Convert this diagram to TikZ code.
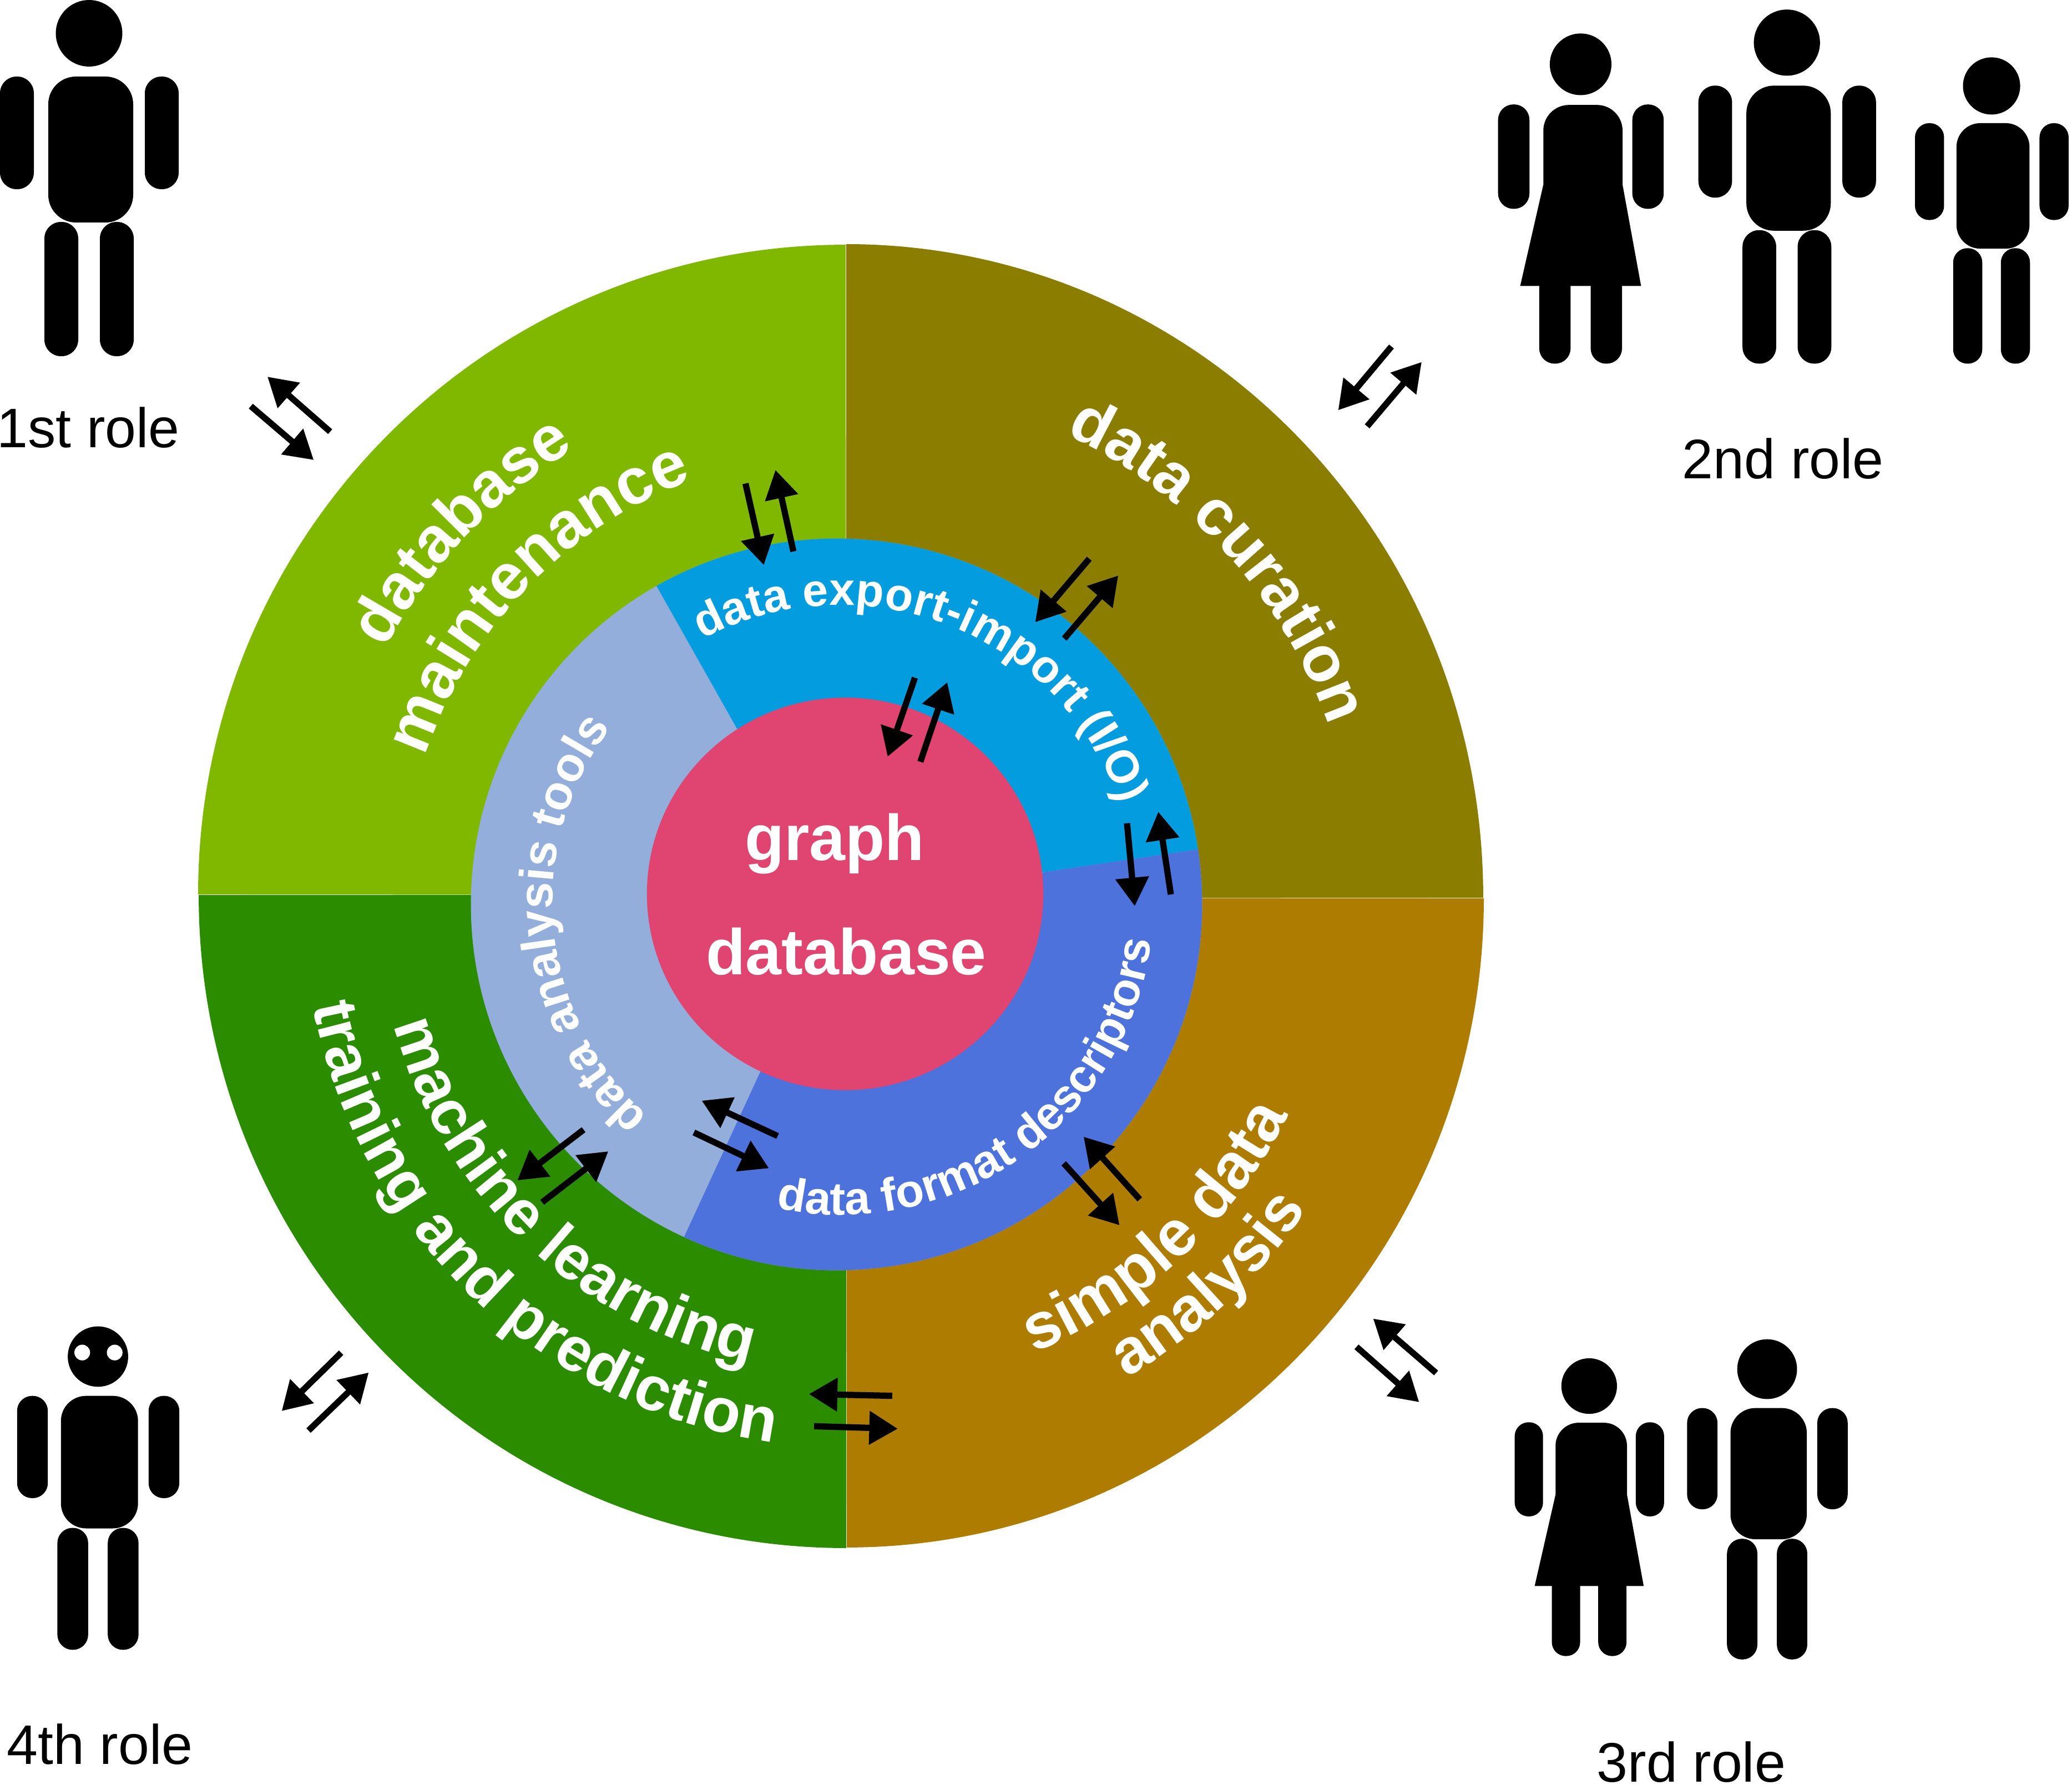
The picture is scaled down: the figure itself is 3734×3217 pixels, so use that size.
\documentclass[tikz,border=0pt]{standalone}
\usepackage{fontspec}
\setmainfont{Liberation Sans}
\usetikzlibrary{arrows.meta, decorations.text}

\definecolor{maintgreen}{HTML}{80B800}
\definecolor{curolive}{HTML}{8B7D00}
\definecolor{simplebrown}{HTML}{AE7D00}
\definecolor{mlgreen}{HTML}{2C8C00}
\definecolor{toolblue}{HTML}{94AEDC}
\definecolor{ioblue}{HTML}{039CDE}
\definecolor{formatblue}{HTML}{4E72DC}
\definecolor{hubpink}{HTML}{E04470}

\newcommand{\ringlabel}[6]{%
  \path[decorate, decoration={text along path, text color=white, text align=center,
    text={|\fontsize{#5}{#5}\selectfont\bfseries|#6}}]
    (#1) ++(#2:#4) arc[start angle=#2, end angle=#3, radius=#4];
}

\tikzset{
  person/.pic={
    \begin{scope}[scale=#1]
    \pgfmathsetmacro{\rlimb}{4.25*#1}
    \pgfmathsetmacro{\rbody}{7.1*#1}
    \fill (160.5,60) circle[radius=0.3cm];
    \fill[rounded corners=\rlimb pt] (0,138) rectangle (61,341);
    \fill[rounded corners=\rlimb pt] (261,138) rectangle (322,341);
    \fill[rounded corners=\rbody pt] (87,138) rectangle (240,401);
    \fill[rounded corners=\rlimb pt] (80,400) rectangle (141,642);
    \fill[rounded corners=\rlimb pt] (180,400) rectangle (241,642);
    \end{scope}
  },
  woman/.pic={
    \begin{scope}[scale=#1]
    \pgfmathsetmacro{\rlimb}{4.25*#1}
    \pgfmathsetmacro{\rbody}{7.1*#1}
    \fill (160.5,60) circle[radius=0.3cm];
    \fill[rounded corners=\rlimb pt] (0,138) rectangle (61,341);
    \fill[rounded corners=\rlimb pt] (261,138) rectangle (322,341);
    \fill[rounded corners=\rbody pt] (88,300) -- (88,139) -- (242,139) -- (242,300) [sharp corners] -- (242,294) -- (278,491) -- (43,491) -- (88,294) -- cycle;
    \fill[rounded corners=\rlimb pt] (80,450) rectangle (141,642);
    \fill[rounded corners=\rlimb pt] (180,450) rectangle (241,642);
    \end{scope}
  },
  robot/.pic={
    \pic {person=#1};
    \fill[white, scale=#1] (129.3,52) circle[radius=0.078cm];
    \fill[white, scale=#1] (193.7,52) circle[radius=0.078cm];
  },
  rolelabel/.style={inner sep=0pt, anchor=base, font=\fontsize{14.3}{16}\selectfont},
  hublabel/.style={inner sep=0pt, anchor=base, text=white, font=\fontsize{16.6}{19}\selectfont\bfseries},
  flow/.style={-{Triangle[length=7.3pt, width=8.3pt]}, line width=1.6pt, black}
}

\begin{document}
\begin{tikzpicture}[x=0.005cm, y=-0.005cm]
\useasboundingbox (0,0) rectangle (3734,3217);

% Outer quadrants
\fill[maintgreen] (1525,1612) -- (357,1612) arc[start angle=180, end angle=90, x radius=5.84cm, y radius=5.86cm] -- cycle;
\fill[curolive] (1525,1619) -- (1525,440) arc[start angle=90, end angle=0, x radius=5.745cm, y radius=5.895cm] -- cycle;
\fill[simplebrown] (1525,1619) -- (2674,1619) arc[start angle=0, end angle=-90, x radius=5.745cm, y radius=5.855cm] -- cycle;
\fill[mlgreen] (1525,1612) -- (1525,2790) arc[start angle=270, end angle=180, x radius=5.84cm, y radius=5.89cm] -- cycle;

% Middle ring
\fill[toolblue] (1507.5,1630) ellipse[x radius=3.2975cm, y radius=3.3cm];
\begin{scope}
\clip (1328,1313) -- (1160,1015) -- (1160,900) -- (2300,900) -- (2300,1510) -- (1880,1572) -- cycle;
\fill[ioblue] (1507.5,1630) ellipse[x radius=3.2975cm, y radius=3.3cm];
\end{scope}
\begin{scope}
\clip (1880,1572) -- (2300,1510) -- (2300,2400) -- (1154,2400) -- (1370,1932) -- cycle;
\fill[formatblue] (1507.5,1630) ellipse[x radius=3.2975cm, y radius=3.3cm];
\end{scope}

% Centre
\fill[hubpink] (1523,1611) ellipse[x radius=1.7875cm, y radius=1.77cm];
\node[hublabel] (graph) at (1504,1551) {graph};
\node[hublabel] (database) at (1525,1757) {database};

% Curved labels
\coordinate (hubO) at (1525,1615);
\coordinate (hubL) at (1530,1625);
\coordinate (hubR) at (1515,1625);
\ringlabel{hubO}{67}{17}{4.615cm}{16.5pt}{data curation}
\ringlabel{hubO}{166.5}{106.5}{4.72cm}{16.5pt}{database}
\ringlabel{hubO}{175}{97}{4.0cm}{16.7pt}{maintenance}
\ringlabel{hubO}{-80}{-14}{4.45cm}{16.6pt}{simple data}
\ringlabel{hubO}{-70}{-24}{5.025cm}{16.2pt}{analysis}
\ringlabel{hubL}{185}{268}{4.25cm}{16.1pt}{machine learning}
\ringlabel{hubL}{185}{268}{4.925cm}{16.05pt}{training and prediction}
\ringlabel{hubR}{129}{8}{2.675cm}{11.8pt}{data export-import (I/O)}
\ringlabel{hubR}{-111}{2}{2.825cm}{11.9pt}{data format descriptors}
\ringlabel{hubR}{240}{131}{2.6cm}{12.3pt}{data analysis tools}

% People
\pic (first) at (0,0) {person=1};
\pic (secondA) at (2699.7,60.3) {woman=0.927};
\pic (secondB) at (3060.7,17.2) {person=0.994};
\pic (secondC) at (3451,103.3) {person=0.86};
\pic (thirdA) at (2729.7,2447.9) {woman=0.836};
\pic (thirdB) at (3040.3,2413.6) {person=0.899};
\pic (fourth) at (30.8,2390.4) {robot=0.908};

\node[rolelabel] (role1) at (159,806.5) {1st role};
\node[rolelabel] (role2) at (3213.4,862.8) {2nd role};
\node[rolelabel] (role3) at (3048,3211.7) {3rd role};
\node[rolelabel] (role4) at (180,3179.6) {4th role};

% Arrow pairs
\foreach \n/\xa/\ya/\xb/\yb in {
  a1/595/778/482/679, a2/452/732/565.4/829,
  b1/2507.6/624.5/2411.6/739.3, b2/2463.8/768.4/2562/652.4,
  c1/1343.5/871.4/1376.5/1018.4, c2/1429.8/993.9/1397.5/847,
  d1/1963/1007/1865.6/1121.4, d2/1917.9/1151/2015.2/1037.2,
  e1/1648.8/1221.4/1599.6/1363.8, e2/1658.6/1373/1707/1229.6,
  f1/2031/1483.7/2045/1633, f2/2110/1612/2087.4/1463,
  g1/1401.4/2047.4/1264.6/1983.7, g2/1250.5/2041/1385.7/2105.5,
  h1/2054/2161.6/1952.8/2048.7, h2/1917/2096.6/2017.5/2208.2,
  i1/1607.9/2515.6/1457.8/2512.4, i2/1467/2570.4/1617.8/2574.9,
  j1/1051.7/2036/932.4/2127.3, j2/977/2166.8/1096.3/2075,
  k1/614.8/2437.9/507.7/2543, k2/556/2578.2/664.5/2473.6,
  l1/2588/2474.4/2474.6/2376.5, l2/2444.6/2427.4/2557.5/2527}
{
  \coordinate (\n s) at (\xa,\ya);
  \coordinate (\n e) at (\xb,\yb);
  \draw[flow] (\n s) -- (\n e);
}

\end{tikzpicture}
\end{document}
